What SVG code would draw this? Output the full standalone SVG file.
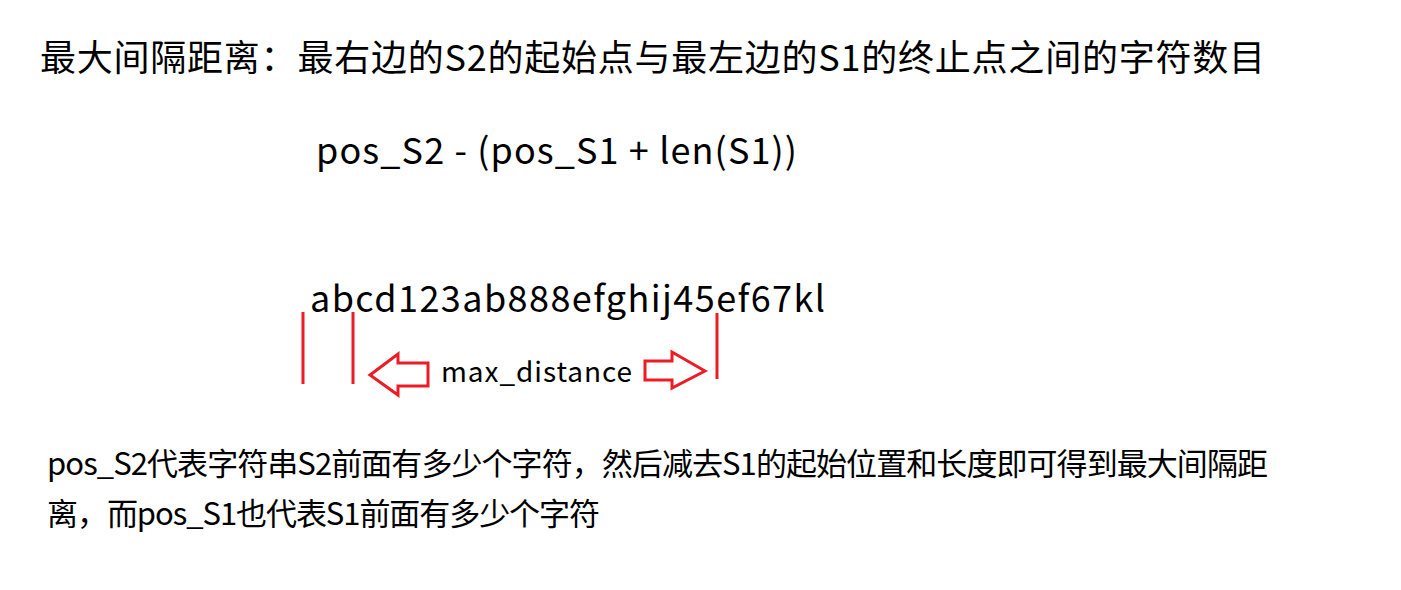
<svg xmlns="http://www.w3.org/2000/svg" width="1401" height="590" viewBox="0 0 1401 590">
<style>
.t{font-family:"Noto Sans CJK SC","Microsoft YaHei",sans-serif;fill:#000;font-weight:400}
.red{stroke:#ED1C24;stroke-width:3;fill:none}
.arr{stroke:#ED1C24;stroke-width:3;fill:#fff;stroke-linejoin:miter}
</style>
<rect width="1401" height="590" fill="#fff"/>
<g id="title"><text class="t" x="40" y="71" font-size="36" textLength="1225" lengthAdjust="spacing">最大间隔距离：最右边的S2的起始点与最左边的S1的终止点之间的字符数目</text></g>
<g id="formula"><text class="t" x="316" y="164" font-size="36" textLength="481" lengthAdjust="spacing">pos_S2 - (pos_S1 + len(S1))</text></g>
<g id="string"><text class="t" x="310" y="312" font-size="36" textLength="515" lengthAdjust="spacing">abcd123ab888efghij45ef67kl</text></g>
<g id="markers">
<line class="red" x1="303" y1="312" x2="303" y2="384"/>
<line class="red" x1="353" y1="312" x2="353" y2="384"/>
<line class="red" x1="717" y1="313" x2="717" y2="379"/>
<polygon class="arr" points="370,375 398,354 398,363 428,363 428,386 398,386 398,395"/>
<polygon class="arr" points="705,371 672,352 672,361 645,361 645,380 672,380 672,388"/>
</g>
<g id="label"><text class="t" x="441" y="382" font-size="28" textLength="191" lengthAdjust="spacing">max_distance</text></g>
<g id="note">
<text class="t" x="47" y="475" font-size="31" textLength="1221" lengthAdjust="spacing">pos_S2代表字符串S2前面有多少个字符，然后减去S1的起始位置和长度即可得到最大间隔距</text>
<text class="t" x="47" y="525" font-size="31" textLength="553" lengthAdjust="spacing">离，而pos_S1也代表S1前面有多少个字符</text>
</g>
</svg>
